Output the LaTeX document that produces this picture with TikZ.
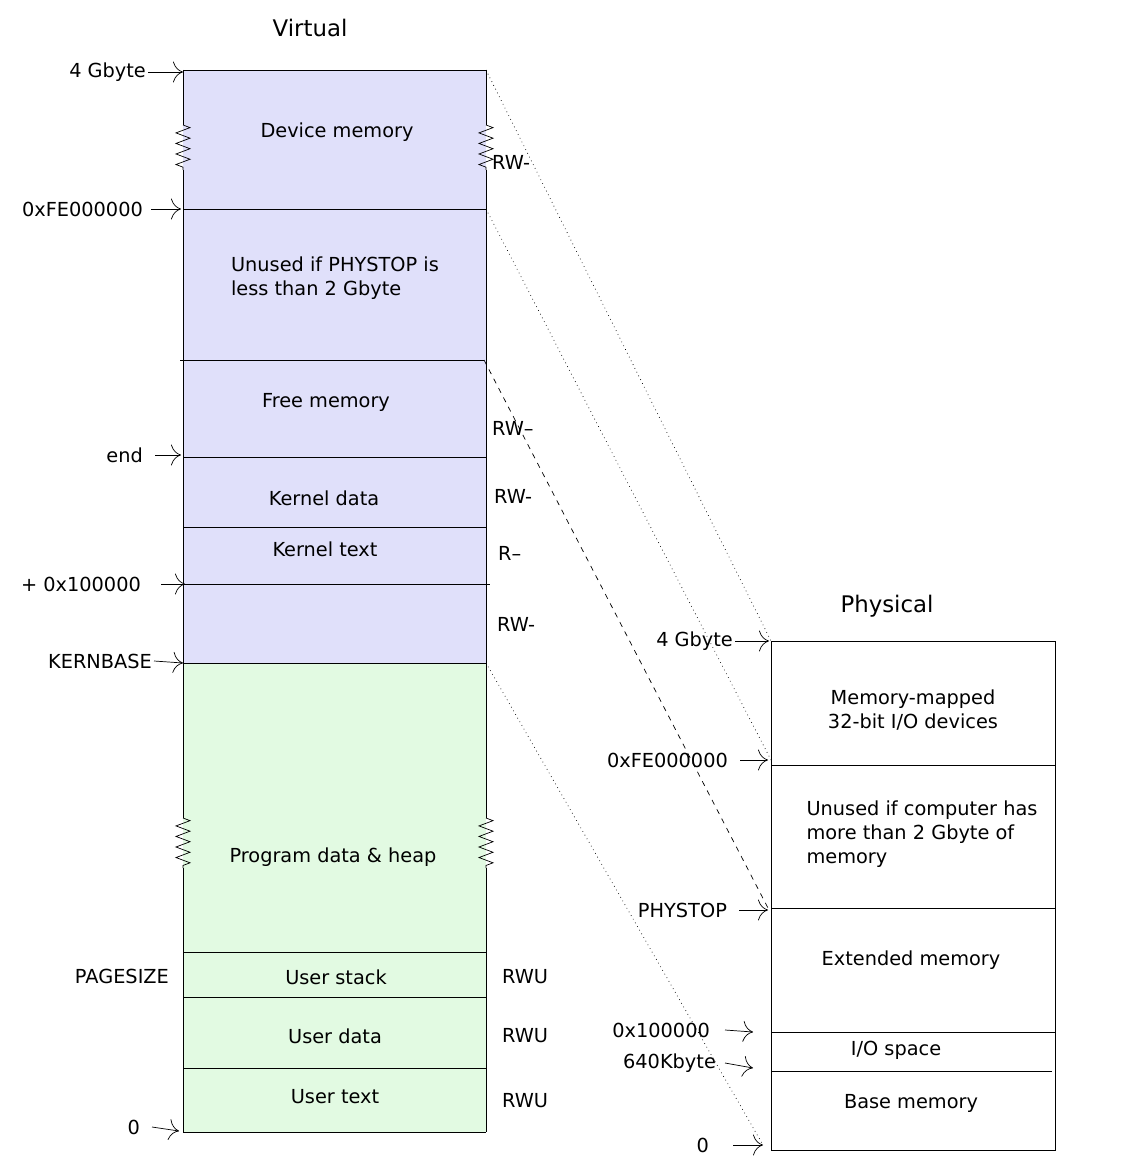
\documentclass[tikz,border=0pt]{standalone}
\usepackage{fontspec}
\setmainfont{DejaVu Sans}
\usetikzlibrary{arrows.meta,decorations.pathmorphing}
\definecolor{vblue}{RGB}{224,224,250}
\definecolor{vgreen}{RGB}{226,250,226}
\tikzset{
  lbl/.style={anchor=east,inner sep=1pt},
  ptr/.style={-{To[length=2mm]}},
  perm/.style={anchor=west,inner sep=1pt},
  zz/.style={decorate,decoration={zigzag,segment length=6pt,amplitude=4pt}},
  map/.style={dotted},
}
\begin{document}
\begin{tikzpicture}[x=0.02cm,y=-0.02cm,font=\fontsize{11}{13.5}\selectfont]
	\useasboundingbox (0,0) rectangle (1120,1162);
	% virtual address space
	\fill[vblue] (183,70) rectangle (486,663);
	\fill[vgreen] (183,663) rectangle (486,1132);
	\draw (183,70) -- (486,70) (183,1132) -- (486,1132);
	\draw (183,70) -- (183,125) (183,170) -- (183,818) (183,868) -- (183,1132);
	\draw (486,70) -- (486,125) (486,170) -- (486,818) (486,868) -- (486,1132);
	\draw[zz] (183,125) -- (183,170);
	\draw[zz] (486,125) -- (486,170);
	\draw[zz] (183,818) -- (183,868);
	\draw[zz] (486,818) -- (486,868);
	\foreach \y in {209,457,527,663,952,997,1068} \draw (183,\y) -- (486,\y);
	\draw (180,360) -- (484,360);
	\draw (183,584) -- (490,584);
	\node at (310,28) {\fontsize{13}{15}\selectfont Virtual};
	\node at (337,132) {Device memory};
	\node[align=left] at (335,278) {Unused if PHYSTOP is\\less than 2 Gbyte};
	\node at (326,402) {Free memory};
	\node at (324,498) {Kernel data};
	\node at (325,549) {Kernel text};
	\node at (333,857) {Program data \& heap};
	\node at (336,977) {User stack};
	\node at (335,1036) {User data};
	\node at (335,1097) {User text};
	% virtual addresses
	\node[lbl] (v4g) at (148,72) {4 Gbyte};
	\node[lbl] (vfe) at (145,209) {0xFE000000};
	\node[lbl] (vend) at (145,455) {end};
	\node[lbl] (vmeg) at (143,584) {+ 0x100000};
	\node[lbl] (vkb) at (154,661) {KERNBASE};
	\node[lbl] at (171,976) {PAGESIZE};
	\node[lbl] (vzero) at (142,1127) {0};
	\draw[ptr] (v4g.east) -- (183,72);
	\draw[ptr] (vfe.east) ++(6,0) -- (181,209);
	\draw[ptr] (vend.east) ++(10,0) -- (181,455);
	\draw[ptr] (vmeg.east) ++(18,0) -- (185,584);
	\draw[ptr] (vkb.east) -- (183,663);
	\draw[ptr] (vzero.east) ++(10,0) -- (179,1131);
	% permissions
	\node[perm] at (490,162) {RW-};
	\node[perm] at (490,428) {RW--};
	\node[perm] at (492,496) {RW-};
	\node[perm] at (496,553) {R--};
	\node[perm] at (495,624) {RW-};
	\node[perm] at (500,977) {RWU};
	\node[perm] at (500,1036) {RWU};
	\node[perm] at (500,1101) {RWU};
	% physical address space
	\draw (771,641) rectangle (1055,1150);
	\foreach \y in {765,908,1032} \draw (771,\y) -- (1055,\y);
	\draw (771,1071) -- (1052,1071);
	\node at (887,606) {\fontsize{13}{15}\selectfont Physical};
	\node[align=center] at (913,710) {Memory-mapped\\32-bit I/O devices};
	\node[align=left] at (922,834) {Unused if computer has\\more than 2 Gbyte of\\memory};
	\node at (911,960) {Extended memory};
	\node at (896,1050) {I/O space};
	\node at (911,1103) {Base memory};
	\node[lbl] (p4g) at (735,641) {4 Gbyte};
	\node[lbl] (pfe) at (730,760) {0xFE000000};
	\node[lbl] (pstop) at (729,910) {PHYSTOP};
	\node[lbl] (pmeg) at (712,1030) {0x100000};
	\node[lbl] (p640) at (718,1063) {640Kbyte};
	\node[lbl] (pzero) at (711,1145) {0};
	\draw[ptr] (p4g.east) -- (769,641);
	\draw[ptr] (pfe.east) ++(10,0) -- (768,760);
	\draw[ptr] (pstop.east) ++(10,0) -- (768,910);
	\draw[ptr] (pmeg.east) ++(13,0) -- (753,1032);
	\draw[ptr] (p640.east) ++(7,0) -- (753,1068);
	\draw[ptr] (pzero.east) ++(22,0) -- (763,1145);
	% mappings
	\draw[map] (486,70) -- (771,641);
	\draw[map] (486,209) -- (771,760);
	\draw[dashed] (484,360) -- (768,908);
	\draw[map] (486,663) -- (763,1145);
\end{tikzpicture}
\end{document}
